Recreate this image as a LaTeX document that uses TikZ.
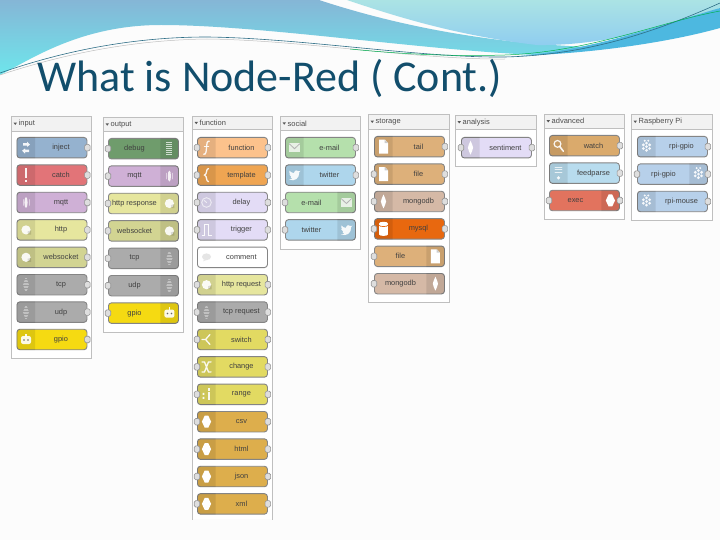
\documentclass[tikz,border=0pt]{standalone}
\usepackage{fontspec}
\setmainfont{Liberation Sans}
\newfontfamily\titlefont{Carlito}

\definecolor{cinject}{HTML}{95B2CF}
\definecolor{ccatch}{HTML}{E27478}
\definecolor{cmqtt}{HTML}{CFB0D6}
\definecolor{chttp}{HTML}{E6E69E}
\definecolor{csock}{HTML}{D2D492}
\definecolor{ctcp}{HTML}{ABABAB}
\definecolor{cgpio}{HTML}{F5DA12}
\definecolor{cdebug}{HTML}{6F9C6C}
\definecolor{cfunc}{HTML}{FCC28C}
\definecolor{ctempl}{HTML}{EFA552}
\definecolor{cdelay}{HTML}{E3DCF6}
\definecolor{cnote}{HTML}{FFFFFF}
\definecolor{cswitch}{HTML}{E2DA62}
\definecolor{cparse}{HTML}{DDAE4C}
\definecolor{cmail}{HTML}{B5E0AC}
\definecolor{cbird}{HTML}{AED6EC}
\definecolor{cfile}{HTML}{DDB07A}
\definecolor{cmongo}{HTML}{D5B9A6}
\definecolor{cmysql}{HTML}{E8680F}
\definecolor{cwatch}{HTML}{DAAA6C}
\definecolor{cfeed}{HTML}{B8DCEE}
\definecolor{cexec}{HTML}{E2735E}
\definecolor{crpi}{HTML}{B7D0EA}
\definecolor{titleblue}{HTML}{124E6C}
\definecolor{wavetop}{HTML}{85B6D6}
\definecolor{wavelow}{HTML}{6EE6EC}
\definecolor{capetop}{HTML}{ABE3E4}
\definecolor{capelow}{HTML}{8FCDF0}
\definecolor{waveband}{HTML}{4DB8E0}

\tikzset{
  pill/.style={draw=black!48, line width=.9pt, rounded corners=3pt, minimum width=70pt, minimum height=20.5pt, inner sep=0pt, anchor=north west},
  pilltext/.style={font=\fontsize{7.4}{8}\selectfont, text=black!75, inner sep=0pt},
  band/.style={black, opacity=.09},
  port/.style={draw=black!42, fill=black!13, line width=.6pt, rounded corners=1.5pt, minimum width=5.5pt, minimum height=6.5pt, inner sep=0pt},
  panelbox/.style={draw=black!25, fill=white, line width=.9pt, inner sep=0pt, anchor=north west},
  panelhead/.style={draw=black!25, fill=black!5, line width=.6pt, inner sep=0pt, minimum height=14pt, anchor=north west},
  headtext/.style={font=\fontsize{7.5}{8}\selectfont, text=black!70, inner sep=0pt, anchor=west},
  ic/.style={fill=white, draw=none, opacity=.9},
  icl/.style={draw=white, line width=1.1pt, opacity=.9, line cap=round},
  pics/arrows/.style={code={\fill[ic] (-3,4.5) -- (1,4.5) -- (1,6) -- (4,3) -- (1,.8) -- (1,2) -- (-3,2) -- cycle;
      \fill[ic] (3,-4.5) -- (-1,-4.5) -- (-1,-6) -- (-4,-3) -- (-1,-.8) -- (-1,-2) -- (3,-2) -- cycle;}},
  pics/bang/.style={code={\fill[ic] (-1.3,7) rectangle (1.3,-2.5); \fill[ic] (-1.3,-4.5) rectangle (1.3,-7);}},
  pics/wave/.style={code={\fill[ic,opacity=.85] (0,0) ellipse (1.6 and 5.5); \draw[icl,line width=.5pt,opacity=.5] (-3,-3) -- (-3,3) (3,-3) -- (3,3);}},
  pics/globe/.style={code={\fill[ic] (0,0) circle (4.6); \fill[black,opacity=.12] (2,-4.6) -- (5,-4.6) -- (5,-.5) -- (1.5,-1.5) -- cycle;}},
  pics/noise/.style={code={\foreach \k [evaluate=\k as \w using 2.8-.33*abs(\k)] in {-6,-4.5,...,6} {\draw[icl,line width=.7pt,opacity=.38] (-\w,\k) -- (\w,\k);}}},
  pics/bot/.style={code={\fill[ic,rounded corners=2pt] (-5,3.5) rectangle (5,-4.5); \fill[ic] (-.6,3) rectangle (.6,6); \fill[black!60] (-2,-.4) circle (.9) (2,-.4) circle (.9);}},
  pics/func/.style={code={\draw[icl,line width=1.3pt] (2.8,6.5) .. controls (.5,7) and (.3,4) .. (0,0) .. controls (-.3,-4) and (-.5,-7) .. (-2.8,-6.5); \draw[icl] (-2.2,1.5) -- (2.2,1.5);}},
  pics/brace/.style={code={\draw[icl,line width=1.3pt] (2,6.5) .. controls (-.8,6.5) and (1,.8) .. (-2,0) .. controls (1,-.8) and (-.8,-6.5) .. (2,-6.5);}},
  pics/clock/.style={code={\draw[icl,line width=.9pt,opacity=.65] (0,0) circle (4.8); \draw[icl,line width=.9pt,opacity=.65] (0,0) -- (-2.4,2.2);}},
  pics/pulse/.style={code={\draw[icl,line width=.9pt,line cap=butt] (-5,-5.5) -- (-2,-5.5) -- (-2,5.5) -- (2,5.5) -- (2,-5.5) -- (5,-5.5);}},
  pics/bubble/.style={code={\fill[black!10] (0,.5) ellipse (4.5 and 3.4); \fill[black!10] (-2,-2) -- (-3.5,-4) -- (.5,-2.5) -- cycle;}},
  pics/split/.style={code={\draw[icl,line width=1.3pt] (-4.5,0) -- (-1,0) -- (3.5,5) (-1,0) -- (3.5,-5);}},
  pics/shuffle/.style={code={\draw[icl,line width=1.3pt] (-4.5,5) -- (-2,5) -- (2,-5) -- (4.5,-5) (-4.5,-5) -- (-2,-5) -- (2,5) -- (4.5,5);}},
  pics/irange/.style={code={\fill[ic] (-4,1.5) rectangle (-2.2,-.5) (-4,-2.5) rectangle (-2.2,-4.5); \fill[ic] (1,6) rectangle (3,3.6); \fill[ic] (1,2) rectangle (3,-6);}},
  pics/hexa/.style={code={\fill[ic,opacity=1] (-1.8,6) -- (1.8,6) -- (4.6,0) -- (1.8,-6) -- (-1.8,-6) -- (-4.6,0) -- cycle;}},
  pics/sheet/.style={code={\fill[ic,opacity=1] (-4.5,7) -- (1.5,7) -- (4.5,3.8) -- (4.5,-7) -- (-4.5,-7) -- cycle; \fill[black,opacity=.2] (1.2,7) -- (1.2,3.6) -- (4.5,3.6) -- cycle;}},
  pics/drop/.style={code={\fill[ic,opacity=1] (0,7) .. controls (1,4) and (2.6,2) .. (2.6,0) .. controls (2.6,-3) and (.7,-4) .. (0,-7) .. controls (-.7,-4) and (-2.6,-3) .. (-2.6,0) .. controls (-2.6,2) and (-1,4) .. (0,7);}},
  pics/cylinder/.style={code={\fill[ic,opacity=1] (-4.5,4.5) rectangle (4.5,-5.5); \fill[ic,opacity=1] (0,-5.5) ellipse (4.5 and 1.5); \fill[ic,opacity=1] (0,5.5) ellipse (4.5 and 1.6); \draw[cmysql,line width=.7pt] (-4.5,3.8) arc[start angle=180,end angle=360,x radius=4.5,y radius=1.5];}},
  pics/letter/.style={code={\fill[ic,opacity=.75] (-5.5,4.5) rectangle (5.5,-4.5); \draw[black!30,line width=.8pt] (-5.3,4) -- (0,-1) -- (5.3,4);}},
  pics/bird/.style={code={\fill[ic] (-5.5,-4.4) .. controls (0,-6.8) and (5,-3.5) .. (4.8,3) -- (6,4.2) -- (4.2,3.9) .. controls (3,5.5) and (-.2,5) .. (-.5,2) .. controls (-2.5,2.2) and (-4,3) .. (-5,4.4) .. controls (-5.5,2.5) and (-5,1.3) .. (-4,.5) -- (-5.2,.7) .. controls (-5,-.8) and (-4,-1.6) .. (-3,-2) -- (-3.8,-2.4) .. controls (-3.5,-3.3) and (-2.8,-3.6) .. (-2,-3.8) .. controls (-3,-4.4) and (-4,-4.6) .. (-5.5,-4.4) -- cycle;}},
  pics/lens/.style={code={\draw[icl,line width=1.2pt] (-1,1.8) circle (3.4); \draw[icl,line width=1.6pt] (1.3,-.8) -- (4.8,-5.5);}},
  pics/feed/.style={code={\foreach \k in {6,3.3,...,-2} {\draw[icl,line width=.8pt,opacity=.75] (-3.5,\k) -- (3.5,\k);} \fill[ic] (0,-4.8) circle (1.8);}},
  pics/berry/.style={code={\foreach \a in {30,90,...,330} {\fill[ic] (\a:3.6) circle (1.55);} \fill[ic] (0,0) circle (1.5); \fill[ic] (-1.8,6) circle (1.1) (1.8,6) circle (1.1);}},
  pics/bars/.style={code={\foreach \k in {6,4,...,-6} {\draw[icl,line width=1pt,line cap=butt,opacity=.7] (-3,\k) -- (3,\k);}}},
}

% one pill: icon on the left, output port only
\newcommand{\pillL}[5]{
  \node[pill,fill=#3] (#1) at (#2) {};
  \fill[band] ([xshift=18.5pt]#1.north west) {[rounded corners=3pt] -- (#1.north west) -- (#1.south west)} -- ([xshift=18.5pt]#1.south west) -- cycle;
  \node[pilltext] (#1-t) at ([xshift=9pt]#1.center) {#4};
  \pic at ([xshift=9.5pt]#1.west) {#5};
  \node[port] (#1-o) at (#1.east) {};
}
% icon on the left, both ports
\newcommand{\pillB}[5]{
  \pillL{#1}{#2}{#3}{#4}{#5}
  \node[port] (#1-i) at (#1.west) {};
}
% icon on the right, input port only
\newcommand{\pillR}[5]{
  \node[pill,fill=#3] (#1) at (#2) {};
  \fill[band] ([xshift=-18.5pt]#1.north east) {[rounded corners=3pt] -- (#1.north east) -- (#1.south east)} -- ([xshift=-18.5pt]#1.south east) -- cycle;
  \node[pilltext] (#1-t) at ([xshift=-9pt]#1.center) {#4};
  \pic at ([xshift=-9.5pt]#1.east) {#5};
  \node[port] (#1-i) at (#1.west) {};
}
% icon on the right, both ports
\newcommand{\pillE}[5]{
  \pillR{#1}{#2}{#3}{#4}{#5}
  \node[port] (#1-o) at (#1.east) {};
}
% comment, no ports
\newcommand{\pillC}[5]{
  \node[pill,fill=#3] (#1) at (#2) {};
  \node[pilltext] (#1-t) at ([xshift=9pt]#1.center) {#4};
  \pic at ([xshift=9.5pt]#1.west) {#5};
}
% panel with its heading
\newcommand{\panel}[6]{
  \node[panelbox,minimum width=#3,minimum height=#4] (#1) at (#2) {};
  \node[panelhead,minimum width=#3,minimum height=#5] (#1-h) at (#1.north west) {};
  \fill[black!65] ([xshift=2.5pt,yshift=1.2pt]#1-h.west) -- ([xshift=6pt,yshift=1.2pt]#1-h.west) -- ([xshift=4.25pt,yshift=-1.2pt]#1-h.west) -- cycle;
  \node[headtext] (#1-l) at ([xshift=7.5pt]#1-h.west) {#6};
}

\begin{document}
\begin{tikzpicture}[x=1pt,y=1pt]
  \useasboundingbox (0,0) rectangle (720,-540);
  \fill[black!1] (0,0) rectangle (720,-540);

  % top waves
  \shade[top color=wavetop, bottom color=wavelow]
    (0,0) -- (0,-75) .. controls (30,-60) and (80,-25) .. (161,-25)
    .. controls (260,-25) and (420,-50) .. (537,-55) -- (600,-48) -- (537,-44)
    .. controls (450,-36) and (380,-20) .. (319,0) -- cycle;
  \shade[top color=capetop, bottom color=capelow]
    (347,0) .. controls (400,-18) and (460,-36) .. (537,-45)
    .. controls (600,-46) and (670,-28) .. (720,-8) -- (720,0) -- cycle;
  \fill[waveband]
    (505,-57) .. controls (590,-52) and (660,-25) .. (720,-8)
    -- (720,-28) .. controls (670,-42) and (600,-52) .. (537,-55) -- cycle;
  \draw[black!25,line width=.5pt] (0,-75) .. controls (60,-55) and (130,-40) .. (207,-39) .. controls (300,-40) and (420,-60) .. (505,-59);
  \draw[waveband!60!black,line width=.6pt] (0,-73) .. controls (60,-52) and (130,-37) .. (207,-37) .. controls (300,-38) and (420,-58) .. (505,-57) .. controls (590,-55) and (660,-30) .. (720,-3);
  \draw[green!55!cyan!70!black,line width=.5pt] (350,-49) .. controls (420,-56) and (470,-56) .. (505,-55) .. controls (590,-52) and (660,-22) .. (720,-11);

  \node[font=\titlefont\fontsize{44}{48}\selectfont,text=titleblue,inner sep=0pt,anchor=base west] (title) at (37,-92) {What is Node-Red ( Cont.)};

  % palettes
  \panel{input}{11,-116}{80pt}{242pt}{15pt}{input}
  \foreach \col/\txt/\icn/\kind [count=\i from 0] in {cinject/inject/arrows/L, ccatch/catch/bang/L, cmqtt/mqtt/wave/L, chttp/http/globe/L, csock/websocket/globe/L, ctcp/tcp/noise/L, ctcp/udp/noise/L, cgpio/gpio/bot/L}
    {\csname pill\kind\endcsname{input-\i}{16.5,-137-27.4*\i}{\col}{\txt}{\icn}}

  \panel{output}{103,-117}{80pt}{215pt}{14.5pt}{output}
  \foreach \col/\txt/\icn/\kind [count=\i from 0] in {cdebug/debug/bars/R, cmqtt/mqtt/wave/R, chttp/http response/globe/R, csock/websocket/globe/R, ctcp/tcp/noise/R, ctcp/udp/noise/R, cgpio/gpio/bot/R}
    {\csname pill\kind\endcsname{output-\i}{108,-138-27.4*\i}{\col}{\txt}{\icn}}

  % function runs off the bottom of the screenshot
  \fill[white] (192,-116) rectangle (272,-519);
  \node[panelhead,minimum width=80pt,minimum height=13.5pt] (function-h) at (192,-116) {};
  \fill[black!65] ([xshift=2.5pt,yshift=1.2pt]function-h.west) -- ([xshift=6pt,yshift=1.2pt]function-h.west) -- ([xshift=4.25pt,yshift=-1.2pt]function-h.west) -- cycle;
  \node[headtext] (function-l) at ([xshift=7.5pt]function-h.west) {function};
  \draw[black!25,line width=.9pt] (function-h.south west) -- ++(0,-389.5) (function-h.south east) -- ++(0,-389.5);
  \foreach \col/\txt/\icn/\kind [count=\i from 0] in {cfunc/function/func/B, ctempl/template/brace/B, cdelay/delay/clock/B, cdelay/trigger/pulse/B, cnote/comment/bubble/C, chttp/http request/globe/B, ctcp/tcp request/noise/B, cswitch/switch/split/B, cswitch/change/shuffle/B, cswitch/range/irange/B, cparse/csv/hexa/B, cparse/html/hexa/B, cparse/json/hexa/B, cparse/xml/hexa/B}
    {\csname pill\kind\endcsname{function-\i}{197,-137-27.4*\i}{\col}{\txt}{\icn}}

  \panel{social}{280,-116}{80pt}{133pt}{14.5pt}{social}
  \foreach \col/\txt/\icn/\kind [count=\i from 0] in {cmail/e-mail/letter/L, cbird/twitter/bird/L, cmail/e-mail/letter/R, cbird/twitter/bird/R}
    {\csname pill\kind\endcsname{social-\i}{285,-137-27.4*\i}{\col}{\txt}{\icn}}

  \panel{storage}{368,-114}{81pt}{188pt}{15pt}{storage}
  \foreach \col/\txt/\icn/\kind [count=\i from 0] in {cfile/tail/sheet/L, cfile/file/sheet/B, cmongo/mongodb/drop/B, cmysql/mysql/cylinder/B, cfile/file/sheet/R, cmongo/mongodb/drop/R}
    {\csname pill\kind\endcsname{storage-\i}{374,-136-27.4*\i}{\col}{\txt}{\icn}}

  \panel{analysis}{455,-115}{81pt}{51pt}{14pt}{analysis}
  \pillB{analysis-0}{461,-137}{cdelay}{sentiment}{drop}

  \panel{advanced}{544,-114}{80pt}{105pt}{14pt}{advanced}
  \foreach \col/\txt/\icn/\kind [count=\i from 0] in {cwatch/watch/lens/L, cfeed/feedparse/feed/L, cexec/exec/hexa/E}
    {\csname pill\kind\endcsname{advanced-\i}{549,-135-27.4*\i}{\col}{\txt}{\icn}}

  \panel{raspberry}{631,-114}{81pt}{106pt}{15pt}{Raspberry Pi}
  \foreach \col/\txt/\icn/\kind [count=\i from 0] in {crpi/rpi-gpio/berry/L, crpi/rpi-gpio/berry/E, crpi/rpi-mouse/berry/L}
    {\csname pill\kind\endcsname{raspberry-\i}{637,-136-27.4*\i}{\col}{\txt}{\icn}}
\end{tikzpicture}
\end{document}
